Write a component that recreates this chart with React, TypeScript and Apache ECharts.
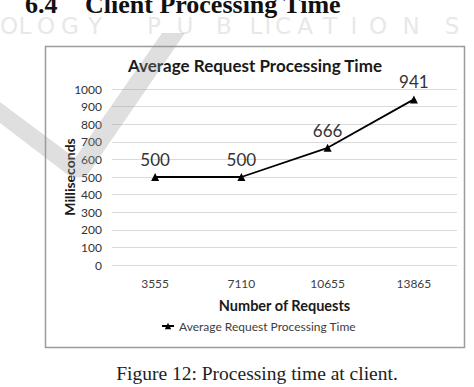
import React, { useEffect, useRef } from "react";
import * as echarts from "echarts";

const categories = ["3555", "7110", "10655", "13865"];
const processingTimes = [500, 500, 666, 941];
const seriesName = "Average Request Processing Time";
const chartTitle = "Average Request Processing Time";
const yAxisName = "Milliseconds";
const xAxisName = "Number of Requests";
const yMin = 0;
const yMax = 1000;
const yInterval = 100;
const heading = ["6.4", "Client Processing Time"];
const caption = "Figure 12: Processing time at client.";
const watermarkLetters: [string, number][] = [
  ["O", 9], ["L", 25], ["O", 46], ["G", 70], ["Y", 95],
  ["P", 154], ["U", 185], ["B", 224], ["L", 256], ["I", 268],
  ["C", 283], ["A", 305], ["T", 330], ["I", 354], ["O", 378],
  ["N", 411], ["S", 452],
];

const SANS = "Lato, 'Open Sans', sans-serif";
const SERIF = "'Liberation Serif', 'DejaVu Serif', serif";

export default function App() {
  const ref = useRef<HTMLDivElement>(null);
  useEffect(() => {
    if (!ref.current) return;
    const chart = echarts.init(ref.current, undefined, { renderer: "svg" });
    chart.setOption({
      animation: false,
      backgroundColor: "#ffffff",
      title: {
        text: chartTitle,
        left: 250,
        top: 52,
        textAlign: "center",
        textStyle: { fontFamily: SANS, fontSize: 17, fontWeight: "bold", color: "#1a1a1a" },
      },
      legend: {
        data: [seriesName],
        left: 156,
        top: 315,
        itemWidth: 12,
        itemHeight: 8,
        textStyle: { fontFamily: SANS, fontSize: 12, color: "#404040" },
      },
      grid: { left: 112, right: 17, top: 89, bottom: 122, containLabel: false },
      xAxis: {
        type: "category",
        data: categories,
        boundaryGap: true,
        name: xAxisName,
        nameLocation: "middle",
        nameGap: 33,
        nameTextStyle: { fontFamily: SANS, fontSize: 14.5, fontWeight: "bold", color: "#1a1a1a" },
        axisLine: { show: false },
        axisTick: { show: false },
        axisLabel: { fontFamily: SANS, fontSize: 12, color: "#404040", margin: 12 },
      },
      yAxis: {
        type: "value",
        min: yMin,
        max: yMax,
        interval: yInterval,
        name: yAxisName,
        nameLocation: "middle",
        nameGap: 36,
        nameMoveOverlap: false,
        nameTextStyle: { fontFamily: SANS, fontSize: 14, fontWeight: "bold", color: "#1a1a1a" },
        axisLine: { show: false },
        axisTick: { show: false },
        axisLabel: {
          fontFamily: SANS,
          fontSize: 12,
          color: "#333333",
          margin: 10,
          formatter: (v: number) => String(v),
        },
        splitLine: { lineStyle: { color: "#dadada", width: 1 } },
      },
      series: [
        {
          name: seriesName,
          type: "line",
          data: processingTimes,
          symbol: "triangle",
          symbolSize: 8,
          itemStyle: { color: "#000000" },
          lineStyle: { color: "#000000", width: 1.8 },
          label: {
            show: true,
            position: "top",
            distance: 5,
            fontFamily: SANS,
            fontSize: 17,
            color: "#333333",
          },
          z: 5,
        },
      ],
      graphic: {
        elements: [
          {
            type: "rect",
            z: 1,
            silent: true,
            shape: { x: 45.5, y: 46.5, width: 419, height: 301 },
            style: { fill: "transparent", stroke: "#9c9c9c", lineWidth: 1.5 },
          },
          ...watermarkLetters.map(([ch, x]) => ({
            type: "text",
            z: 0,
            silent: true,
            x,
            y: 25.5,
            style: {
              text: ch,
              fontFamily: "'DejaVu Sans', sans-serif",
              fontSize: 23,
              lineHeight: 16,
              fill: "#e8e8e8",
              align: "center",
              verticalAlign: "middle",
            },
          })),
          {
            type: "text",
            silent: true,
            x: 25,
            y: 4,
            style: {
              text: heading[0],
              fontFamily: SERIF,
              fontSize: 26,
              lineHeight: 26,
              fontWeight: "bold",
              fill: "#111111",
              verticalAlign: "middle",
            },
          },
          {
            type: "text",
            silent: true,
            x: 85,
            y: 4,
            style: {
              text: heading[1],
              fontFamily: SERIF,
              fontSize: 26,
              lineHeight: 26,
              fontWeight: "bold",
              fill: "#111111",
              verticalAlign: "middle",
            },
          },
          {
            type: "text",
            silent: true,
            x: 257,
            y: 373,
            style: {
              text: caption,
              fontFamily: SERIF,
              fontSize: 19.5,
              fill: "#222222",
              align: "center",
              verticalAlign: "middle",
            },
          },
          {
            type: "polygon",
            z: 100,
            silent: true,
            shape: {
              points: [
                [0, 102], [75, 158], [162, 33], [185, 33], [86, 177], [72, 178], [0, 123],
              ],
            },
            style: { fill: "rgba(150,150,150,0.3)" },
          },
        ],
      },
    });
    return () => chart.dispose();
  }, []);
  return (
    <div
      ref={ref}
      style={{ position: "fixed", left: 0, top: 0, width: 474, height: 387 }}
    />
  );
}
